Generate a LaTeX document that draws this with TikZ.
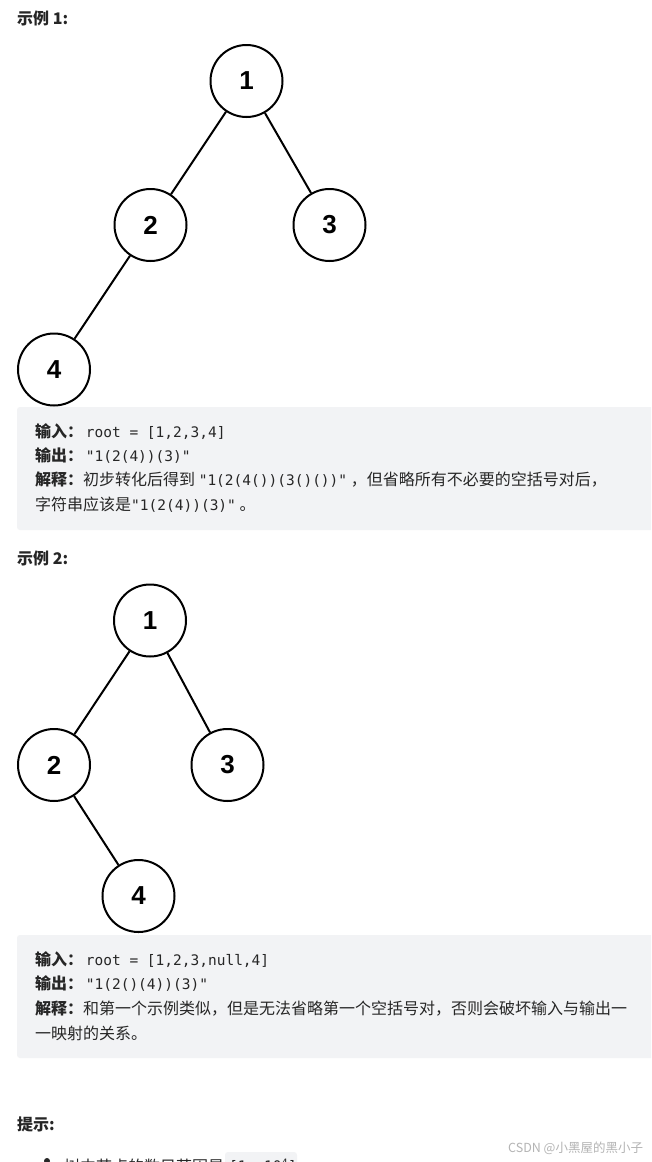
\documentclass[tikz,border=0pt]{standalone}
\usepackage{fontspec}
\setmainfont{Noto Sans CJK SC}
\setmonofont{DejaVu Sans Mono}
\newfontfamily\digitfont{Liberation Sans}
\usetikzlibrary{positioning}
\definecolor{boxgray}{HTML}{F2F3F5}
\definecolor{txt}{HTML}{262626}
\definecolor{wmark}{HTML}{B4B4B4}
\newcommand{\codetxt}[1]{{\ttfamily\fontsize{14.5}{20}\selectfont #1}}
\tikzset{
  tn/.style={circle,draw=black,fill=white,line width=2pt,minimum size=72pt,inner sep=0pt,
             font=\digitfont\bfseries\fontsize{26}{26}\selectfont},
  edg/.style={draw=black,line width=2pt},
  hd/.style={anchor=west,inner sep=0pt,text=txt,font=\bfseries\fontsize{16}{20}\selectfont},
  ln/.style={anchor=west,inner sep=0pt,text=txt,font=\fontsize{16}{20}\selectfont},
  pbox/.style={fill=boxgray,rounded corners=3pt},
}
\begin{document}
\begin{tikzpicture}[x=1pt,y=-1pt]
\useasboundingbox (0,0) rectangle (651,1162);
\clip (0,0) rectangle (651,1162);
\fill[white] (0,0) rectangle (651,1162);
% ---- example 1
\node[hd] (h1) at (17,18.5) {示例 1:};
\node[tn] (n1) at (246.5,81) {1};
\node[tn] (n2) at (150.5,225) {2};
\node[tn] (n3) at (329.5,225) {3};
\node[tn] (n4) at (54,369.5) {4};
\draw[edg] (n1)--(n2) (n1)--(n3) (n2)--(n4);
\fill[pbox] (17,407) rectangle (660,530);
\node[ln] (a1) at (35,432) {\textbf{输入：}\,\codetxt{root = [1,2,3,4]}};
\node[ln] (a2) at (35,455.5) {\textbf{输出：}\,\codetxt{"1(2(4))(3)"}};
\node[ln] (a3) at (35,480) {\textbf{解释：}初步转化后得到\ \codetxt{"1(2(4())(3()())"} ，但省略所有不必要的空括号对后，};
\node[ln] (a4) at (35,505) {字符串应该是\codetxt{"1(2(4))(3)"} 。};
% ---- example 2
\node[hd] (h2) at (17,558.5) {示例 2:};
\node[tn] (m1) at (150,620.5) {1};
\node[tn] (m2) at (54,765) {2};
\node[tn] (m3) at (227.5,765) {3};
\node[tn] (m4) at (138.5,896) {4};
\draw[edg] (m1)--(m2) (m1)--(m3) (m2)--(m4);
\fill[pbox] (17,935) rectangle (660,1058);
\node[ln] (b1) at (35,959.5) {\textbf{输入：}\,\codetxt{root = [1,2,3,null,4]}};
\node[ln] (b2) at (35,983.5) {\textbf{输出：}\,\codetxt{"1(2()(4))(3)"}};
\node[ln] (b3) at (35,1008.5) {\textbf{解释：}和第一个示例类似，但是无法省略第一个空括号对，否则会破坏输入与输出一};
\node[ln] (b4) at (35,1033) {一映射的关系。};
% ---- hints
\node[hd] (h3) at (17,1124.5) {提示:};
\node[anchor=west,inner sep=0pt,text=wmark,font=\fontsize{12.5}{14}\selectfont] (wm) at (508,1148) {CSDN @小黑屋的黑小子};
\fill[txt] (47,1161) circle (3);
\fill[pbox] (225,1152) rectangle (297,1180);
\node[ln] (c1) at (64,1166) {树中节点的数目范围是};
\node[anchor=west,inner sep=0pt,text=txt] (c2) at (229,1166) {\codetxt{[1, 10\textsuperscript{4}]}};
\end{tikzpicture}
\end{document}
